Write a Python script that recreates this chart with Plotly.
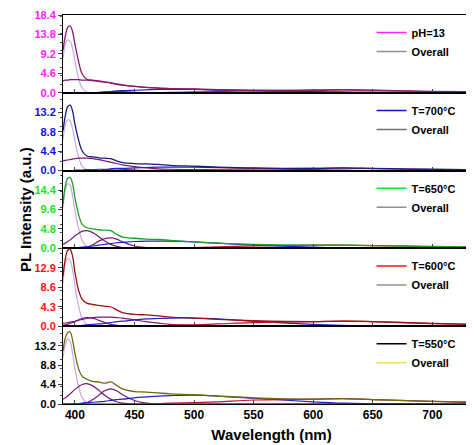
import plotly.graph_objects as go

W = [390,392,394,396,398,400,403,406,410,415,420,425,430,435,440,450,460,470,480,500,520,550,600,625,650,700,740]

labels = ["pH=13", "T=700°C", "T=650°C", "T=600°C", "T=550°C"]
label_colors = ["#ff20ff", "#1010e0", "#20e020", "#ff1010", "#000000"]
data_colors = ["#8a1a70", "#1a1a80", "#20a020", "#a01010", "#6a6a10"]
overall_legend_colors = ["#909090", "#707070", "#909090", "#909090", "#f0e060"]
tickvals = [[0,4.6,9.2,13.8,18.4],[0,4.4,8.8,13.2],[0,4.8,9.6,14.4],[0,4.3,8.6,12.9],[0,4.4,8.8,13.2]]
ranges = [18.4, 17.6, 19.2, 17.2, 17.6]

overall = [
 [10,13.5,15.5,15.8,14.5,11.5,7.5,4.5,3.2,3.0,2.8,2.6,2.4,2.1,1.9,1.5,1.3,1.1,1.0,0.9,0.75,0.6,0.55,0.7,0.6,0.35,0.25],
 [9,12.5,14.5,14.8,13.5,10.5,7,4.5,3.3,3.1,2.9,2.8,2.7,2.2,1.8,1.6,1.5,1.4,1.2,1.0,0.8,0.6,0.5,0.6,0.5,0.3,0.2],
 [11,15.5,17.3,17.5,16,12.5,8.5,6,5.1,4.8,4.6,4.5,4.4,3.5,2.8,2.5,2.3,2.2,2.0,1.6,1.3,1.0,0.8,0.8,0.7,0.5,0.3],
 [11,15,16.8,17,15.5,12,8,6,5.1,4.8,4.6,4.4,4.3,3.6,3.0,2.6,2.5,2.3,2.0,1.8,1.5,1.2,1.0,1.1,1.0,0.6,0.4],
 [12,15,16.2,16.3,14.5,11.5,8,6.3,5.6,5.1,5.0,4.7,5.0,4.2,3.4,2.8,2.7,2.5,2.3,2.1,1.8,1.4,1.1,1.2,1.0,0.6,0.4],
]
lavender = [
 [8,11.5,12.5,12.2,10.5,7.5,3.5,1.2,0.2,0,0,0,0,0,0,0,0,0,0,0,0,0,0,0,0,0,0],
 [7,10.5,11.5,11.2,9.5,6.8,3.2,1.0,0.2,0,0,0,0,0,0,0,0,0,0,0,0,0,0,0,0,0,0],
 [10,14.5,16,15.5,13,9.5,5,2,0.4,0,0,0,0,0,0,0,0,0,0,0,0,0,0,0,0,0,0],
 [9.5,13.8,15,14.5,12.5,9,4.5,1.8,0.4,0,0,0,0,0,0,0,0,0,0,0,0,0,0,0,0,0,0],
 [10.5,13.5,14.8,14.2,11.5,8,4,1.5,0.3,0,0,0,0,0,0,0,0,0,0,0,0,0,0,0,0,0,0],
]
purple1 = [
 [2.9,3.0,3.0,3.1,3.1,3.1,3.1,3.0,3.0,2.9,2.7,2.5,2.3,2.0,1.8,1.5,1.3,1.1,1.0,0.8,0.6,0.45,0.3,0.2,0.15,0.1,0.05],
 [2.2,2.3,2.4,2.5,2.6,2.7,2.8,2.8,2.8,2.7,2.5,2.2,1.9,1.6,1.3,0.9,0.6,0.4,0.3,0.2,0.1,0.05,0,0,0,0,0],
 [1.0,1.3,1.7,2.1,2.6,3.1,3.7,4.2,4.4,3.9,2.9,1.8,1.0,0.5,0.2,0,0,0,0,0,0,0,0,0,0,0,0],
 [0.2,0.3,0.4,0.6,0.8,1.0,1.4,1.7,1.9,1.8,1.3,0.8,0.4,0.2,0.1,0,0,0,0,0,0,0,0,0,0,0,0],
 [1.1,1.4,1.8,2.3,2.8,3.3,3.9,4.4,4.6,4.1,3.1,2.0,1.1,0.5,0.2,0,0,0,0,0,0,0,0,0,0,0,0],
]
purple2 = [
 [0,0,0,0,0,0,0,0,0,0,0,0.1,0.3,0.4,0.3,0.1,0,0,0,0,0,0,0,0,0,0,0],
 [0,0,0,0,0,0,0,0,0,0,0,0.1,0.3,0.4,0.3,0.1,0,0,0,0,0,0,0,0,0,0,0],
 [0,0,0,0,0,0,0,0.1,0.3,0.9,1.8,2.4,2.6,2.3,1.6,0.6,0.2,0,0,0,0,0,0,0,0,0,0],
 [0.6,0.7,0.8,0.9,1.0,1.1,1.3,1.5,1.7,1.9,2.0,2.0,2.0,1.9,1.8,1.4,1.0,0.7,0.4,0.2,0.1,0,0,0,0,0,0],
 [0,0,0,0,0,0,0,0.1,0.3,1.0,2.0,3.0,3.4,3.0,2.1,0.8,0.2,0,0,0,0,0,0,0,0,0,0],
]
blue = [
 [0,0,0,0,0,0,0,0,0,0,0.1,0.2,0.3,0.4,0.5,0.6,0.7,0.8,0.8,0.8,0.7,0.5,0.2,0.1,0,0,0],
 [0,0,0,0,0,0.1,0.1,0.1,0.2,0.2,0.3,0.3,0.4,0.5,0.5,0.6,0.7,0.8,0.8,0.8,0.7,0.5,0.2,0.1,0,0,0],
 [0,0,0,0,0.1,0.1,0.2,0.3,0.4,0.6,0.8,1.0,1.2,1.4,1.5,1.7,1.8,1.8,1.8,1.6,1.3,0.8,0.3,0.1,0,0,0],
 [0,0,0,0,0,0.1,0.1,0.2,0.3,0.4,0.5,0.6,0.8,1.0,1.1,1.4,1.6,1.7,1.8,1.8,1.6,1.1,0.4,0.2,0.1,0,0],
 [0,0,0,0,0,0.1,0.1,0.2,0.3,0.4,0.5,0.6,0.8,1.0,1.1,1.4,1.6,1.8,1.9,2.0,1.8,1.3,0.5,0.2,0.1,0,0],
]
red = [
 [0,0,0,0,0,0,0,0,0,0,0,0,0,0,0,0,0,0.05,0.1,0.2,0.3,0.5,0.7,0.75,0.6,0.25,0.1],
 [0,0,0,0,0,0,0,0,0,0,0,0,0,0,0,0,0,0.05,0.1,0.2,0.3,0.4,0.5,0.55,0.45,0.2,0.1],
 [0,0,0,0,0,0,0,0,0,0,0,0,0,0,0,0,0,0.05,0.1,0.2,0.4,0.6,0.8,0.8,0.7,0.4,0.2],
 [0,0,0,0,0,0,0,0,0,0,0,0,0,0,0,0,0.05,0.1,0.2,0.3,0.5,0.8,1.0,1.1,1.0,0.6,0.3],
 [0,0,0,0,0,0,0,0,0,0,0,0,0,0,0,0,0.05,0.1,0.2,0.3,0.5,0.9,1.1,1.2,1.0,0.6,0.3],
]

BF = dict(family="Arial", weight="bold")
fig = go.Figure()
n = 5
top, bot = 1.0, 0.0
h = (top - bot) / n
layout = {}
for i in range(n):
    ax = "" if i == 0 else str(i + 1)
    yref = "y" + ax
    xref = "x" + ax
    comps = [(lavender[i], "#c8a8ec"), (purple1[i], "#7a1a7a"), (purple2[i], "#7a1a7a"),
             (blue[i], "#2020d0"), (red[i], "#c01030")]
    for vals, col in comps:
        fig.add_trace(go.Scatter(x=W, y=vals, mode="lines", line=dict(color=col, width=1.2, shape="spline"),
                                 showlegend=False, xaxis=xref, yaxis=yref))
    fig.add_trace(go.Scatter(x=W, y=overall[i], mode="lines", line=dict(color=data_colors[i], width=1.3, shape="spline"),
                             showlegend=False, xaxis=xref, yaxis=yref))
    lg = "legend" if i == 0 else "legend" + str(i + 1)
    fig.add_trace(go.Scatter(x=[None], y=[None], mode="lines", name=labels[i], line=dict(color=label_colors[i], width=1.5),
                             legend=lg, xaxis=xref, yaxis=yref))
    fig.add_trace(go.Scatter(x=[None], y=[None], mode="lines", name="Overall", line=dict(color=overall_legend_colors[i], width=1.5),
                             legend=lg, xaxis=xref, yaxis=yref))
    d1 = top - (i + 1) * h
    d0 = top - i * h
    layout["yaxis" + ax] = dict(domain=[d1, d0], range=[0, ranges[i]], tickvals=tickvals[i],
                                tickformat=".1f", tickfont=dict(color=label_colors[i], size=11, **BF),
                                ticks="outside", ticklen=4, showgrid=False, zeroline=False, showline=True,
                                linecolor="black", mirror=True, minor=dict(ticks="outside", ticklen=2, nticks=2))
    xa = dict(domain=[0, 1], range=[390, 740], showgrid=False, zeroline=False, showline=True, linecolor="black",
              mirror=True, ticks="inside", ticklen=4, tickvals=[400,450,500,550,600,650,700],
              anchor=yref)
    if i < 4:
        xa["showticklabels"] = False
        xa["matches"] = "x5"
    else:
        xa["tickfont"] = dict(size=12, color="black", **BF)
        xa["title"] = dict(text="Wavelength (nm)", font=dict(size=15, color="black", **BF), standoff=8)
    layout["xaxis" + ax] = xa
    layout[lg] = dict(x=0.74, y=d0 - 0.008, xanchor="left", yanchor="top", bgcolor="rgba(0,0,0,0)",
                      font=dict(size=11, color="black", **BF), tracegroupgap=0, itemwidth=30,
                      borderwidth=0)

fig.update_layout(**layout)
fig.update_layout(width=474, height=445, margin=dict(l=55, r=2, t=7, b=49, autoexpand=False), plot_bgcolor="white",
                  paper_bgcolor="white", font=dict(family="Arial", color="black"))
fig.add_annotation(text="PL Intensity (a.u.)", x=-0.115, y=0.5, xref="paper", yref="paper",
                   textangle=-90, showarrow=False, font=dict(size=15, color="black", **BF))
fig.write_html("out.html")
